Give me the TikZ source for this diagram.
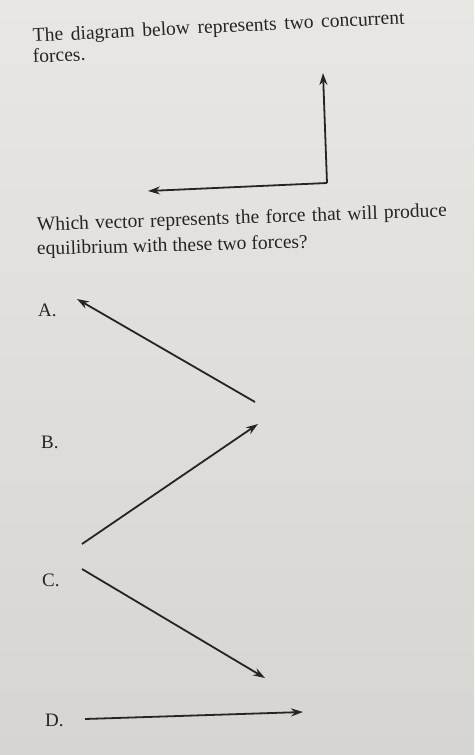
\documentclass[tikz,border=0pt]{standalone}
\usepackage{fontspec}
\setmainfont{Liberation Serif}
\usetikzlibrary{arrows.meta}
\definecolor{papertop}{RGB}{232,231,228}
\definecolor{paperbot}{RGB}{214,213,210}
\definecolor{ink}{RGB}{38,36,36}
\begin{document}
\begin{tikzpicture}[x=1pt,y=-1pt,
  txt/.style={anchor=base west,inner sep=0pt,text=ink,font=\fontsize{19.5}{22}\selectfont},
  lbl/.style={anchor=base west,inner sep=0pt,text=ink,font=\fontsize{19}{22}\selectfont},
  vec/.style={draw=ink,line width=1.8pt,-{Stealth[length=12pt,width=8pt]}}]
\shade[top color=papertop,bottom color=paperbot] (0,0) rectangle (474,755);
\useasboundingbox (0,0) rectangle (474,755);
% question text
\node[txt,rotate=2.8] (q1) at (33,42) {\makebox[372pt][s]{The diagram below represents two concurrent}};
\node[txt,rotate=2.8] (q2) at (33,63) {forces.};
% two concurrent forces
\coordinate (o) at (327,183);
\coordinate (up) at (323,73);
\coordinate (left) at (148,191);
\draw[vec] (o) -- (up);
\draw[vec] (o) -- (left);
% second question
\node[txt,rotate=2] (q3) at (37,231) {\makebox[410pt][s]{Which vector represents the force that will produce}};
\node[txt,rotate=1.5] (q4) at (37,255) {equilibrium with these two forces?};
% options
\node[lbl] (la) at (38,316) {A.};
\coordinate (a1) at (255,402);
\coordinate (a2) at (77,299);
\draw[vec] (a1) -- (a2);
\node[lbl] (lb) at (41,448) {B.};
\coordinate (b1) at (82,544);
\coordinate (b2) at (258,424);
\draw[vec] (b1) -- (b2);
\node[lbl] (lc) at (42,586) {C.};
\coordinate (c1) at (82,569);
\coordinate (c2) at (265,678);
\draw[vec] (c1) -- (c2);
\node[lbl] (ld) at (45,726) {D.};
\coordinate (d1) at (85,719);
\coordinate (d2) at (303,712);
\draw[vec] (d1) -- (d2);
\end{tikzpicture}
\end{document}
